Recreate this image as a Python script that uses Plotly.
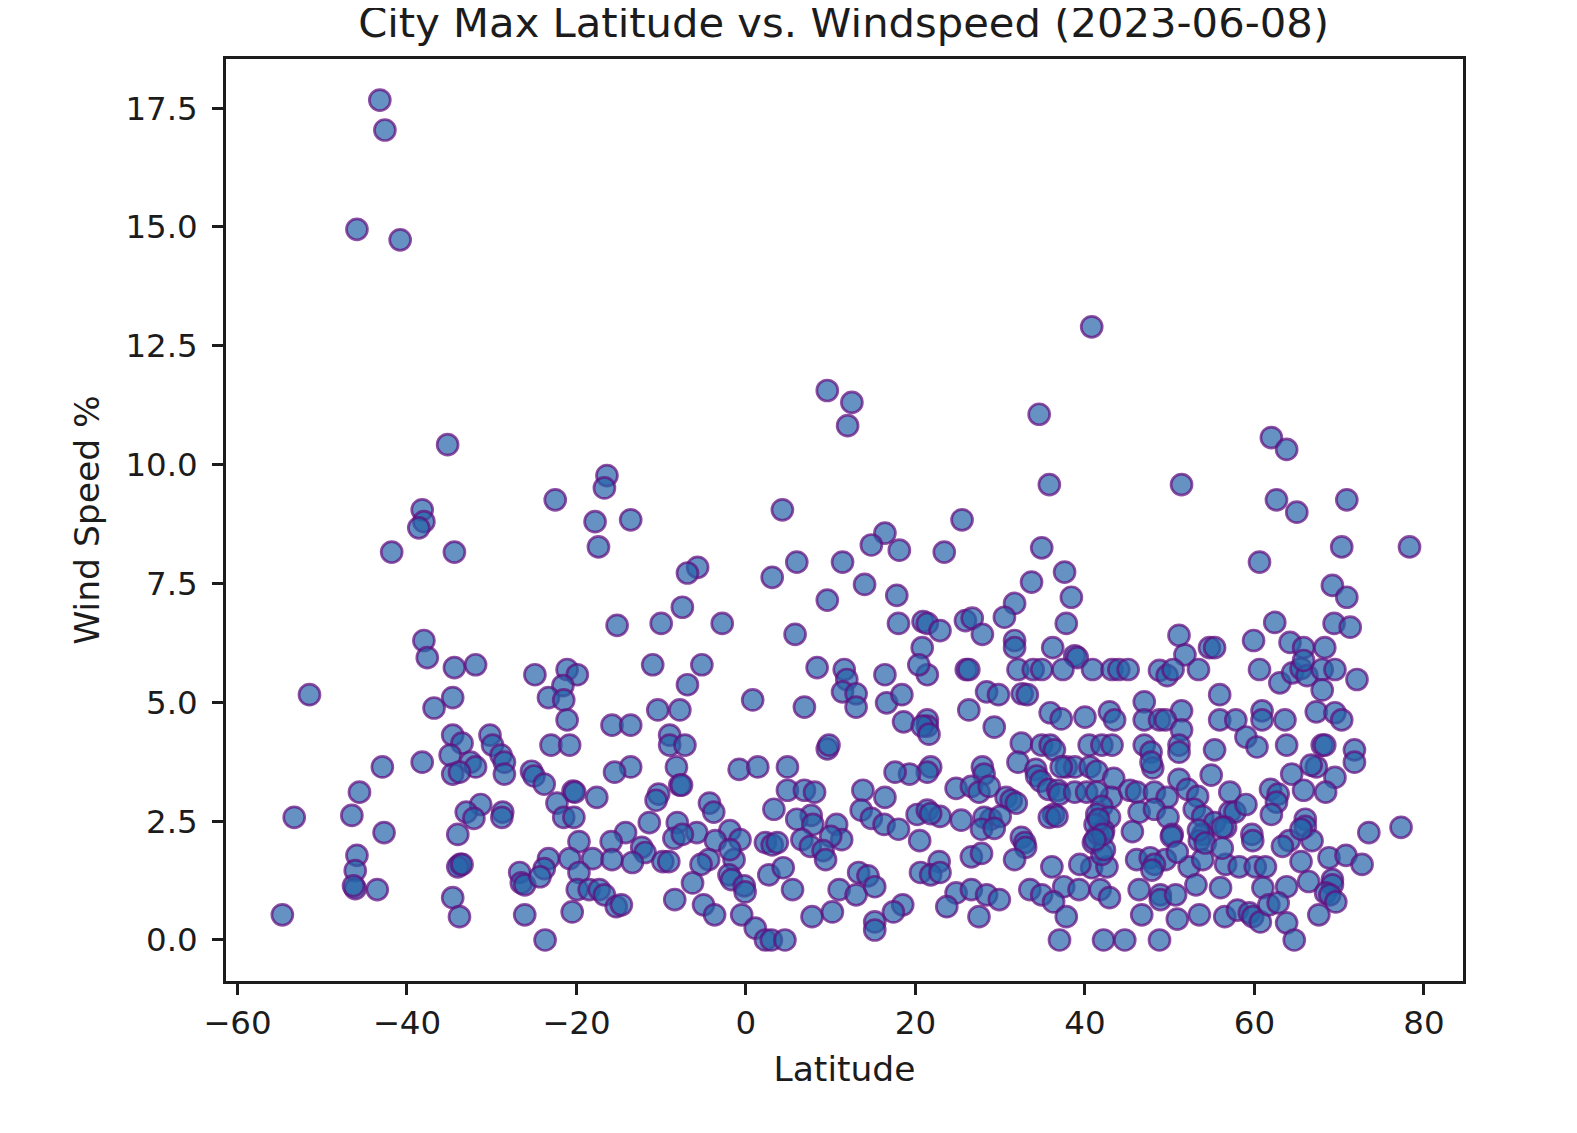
import plotly.graph_objects as go

# values
latitude = [
    -43.2, -42.6, -45.9, -40.8, 40.8, 9.6, 12.5, 12.0, 34.6, -35.2, 62.0, 63.8, 35.8, 51.4, -16.4, -16.7,
    62.6, 70.9, 65.0, -22.5, -38.2, -38.0, -38.6, -17.8, -13.6, 4.3, 25.5, 16.4, 14.8, 18.1, -17.4, -41.8,
    -34.4, 23.4, 34.9, 70.3, 78.3, 6.0, 11.4, 60.6, -5.7, -6.9, 3.1, 37.6, 14.0, 33.7, 69.2, 17.8,
    38.4, 70.9, 9.6, -7.5, 31.7, -10.0, -2.8, -15.2, 18.0, 20.9, 21.4, 22.9, 25.9, 26.7, 30.5, 37.8,
    62.4, 69.4, 71.3, 5.8, 27.9, 51.1, -38.0, 31.7, 31.7, 59.9, 64.2, 20.8, 36.2, 54.7, 55.3, 65.8,
    68.3, 38.8, 39.1, 51.8, -37.6, -34.4, -31.9, -11.0, -5.2, 8.4, -21.1, -19.9, -24.9, 11.6, 11.9, 16.4,
    21.4, 26.0, 26.3, 32.1, 33.9, 34.9, 37.4, 40.9, 43.2, 44.0, 45.1, 20.4, 48.8, 49.7, 50.4, 53.4,
    60.6, 63.0, 64.5, 65.5, 66.2, 65.8, 68.0, 69.5, 72.1, -6.9, -21.6, -23.3, -21.5, 11.4, 13.0, 13.0,
    16.6, 18.4, 28.4, 29.8, 32.6, 33.2, 47.0, 55.9, 68.0, -51.5, -34.6, 0.8, -36.8, -10.4, -7.8, 6.9,
    26.3, 35.9, 40.0, 42.9, 43.5, 51.4, 60.9, 60.9, 67.3, 69.5, 70.3, -21.1, -15.8, -13.6, 18.6, 21.4,
    21.4, 20.8, 21.6, 29.3, 37.2, 47.0, 48.8, 49.5, 51.4, 55.9, 57.8, 63.6, -34.6, -33.5, -30.2, -29.9,
    -9.0, -9.0, -7.2, -23.0, -20.8, 9.6, 9.8, 32.5, 34.9, 35.9, 36.4, 40.5, 42.0, 43.2, 47.0, 47.8,
    51.1, 51.1, 55.3, 59.0, 60.3, 63.8, 68.0, 68.3, 71.8, 71.8, -34.9, -28.9, -28.5, -28.5, -32.5, -31.9,
    -38.2, -42.9, -8.2, -7.8, -7.6, -13.6, -15.5, -25.3, -25.0, -34.6, -33.8, -0.8, 1.4, 4.9, 21.8, 21.4,
    19.3, 17.6, 27.9, 28.1, 32.1, 34.2, 34.3, 34.8, 37.8, 38.8, 37.2, 40.6, 41.4, 48.0, 47.8, 67.3,
    66.7, 64.4, 69.5, -23.8, -45.6, -20.4, -20.2, -10.3, -10.6, -17.6, 4.9, 6.9, 8.1, 13.8, 16.4, 24.8,
    26.6, 27.5, 28.7, 35.7, 36.8, 37.0, 38.8, 40.2, 43.4, 43.1, 41.4, 45.3, 46.1, 48.2, 51.1, 52.1,
    53.3, 57.1, 61.9, 62.8, 62.6, 65.8, 68.4, 30.7, 31.3, 31.9, 49.7, 54.9, -22.3, -4.3, -3.8, 3.3,
    7.7, 6.0, 7.9, 13.6, 14.8, 16.3, 18.0, -31.3, -33.0, -32.1, -28.7, -28.8, -46.5, -53.3, -21.5, -20.3,
    -11.4, -8.1, 20.2, 21.4, 22.9, 21.8, 25.4, 28.9, 28.1, 30.0, 27.8, 29.3, 36.3, 35.8, 36.7, 42.0,
    41.4, 42.9, 46.4, 48.2, 49.8, 52.9, 53.9, 55.3, 57.1, 57.7, 59.0, 62.0, 66.0, 66.0, 45.6, 50.3,
    73.5, 77.3, -42.7, -34.0, -14.2, -5.8, -1.9, -0.7, 10.7, 11.3, 10.0, -15.9, -19.7, 20.5, -8.5, -7.5,
    -3.6, 6.6, 2.3, 3.1, 3.7, 32.5, 32.9, 41.0, 41.6, 42.2, 50.2, 53.9, 53.5, 56.6, 59.7, 59.8,
    64.1, 63.3, 66.8, 65.5, 33.0, -12.3, -11.9, -45.9, -23.3, -20.8, -18.1, -15.8, -13.4, -4.4, -1.4, -1.9,
    7.6, 9.1, 9.4, -9.8, -9.1, -5.3, 31.7, 22.8, 26.6, 27.8, 36.1, 40.8, 39.4, 42.6, 46.1, 47.7,
    49.5, 48.2, 52.3, 53.9, 56.6, 58.2, 60.1, 61.3, 65.5, 68.8, 70.8, 72.7, -46.1, -33.7, -34.0, -33.5,
    13.3, 14.4, 20.6, 21.8, 22.9, 2.7, 4.4, -26.7, -23.8, -19.7, -2.0, -46.1, -46.3, -43.5, -26.5, -26.1,
    -24.3, -6.3, -1.7, -0.2, -0.1, -19.9, -18.5, -17.3, -16.7, 5.5, 11.0, 13.0, 15.2, 24.8, 26.6, 28.4,
    29.9, 33.5, 34.9, 37.5, 39.3, 41.8, 42.9, 46.4, 48.9, 48.9, 50.7, 53.1, 56.0, 61.0, 63.8, 66.4,
    69.2, 69.2, 68.4, 68.9, 69.6, -34.6, -8.4, -15.3, -14.7, -5.0, 36.3, 23.7, 18.5, 17.4, -54.7, -33.8,
    -26.1, -20.5, -3.7, -0.5, 7.8, 10.2, 27.5, 37.8, 46.7, 50.9, 53.5, 56.5, 58.0, 59.4, 59.8, 60.7,
    61.7, 62.8, 63.8, 67.6, 1.1, 15.2, 15.2, -23.7, 2.3, 3.0, 4.6, 37.0, 42.2, 44.7, 48.8, 64.7,
    41.2, 41.6, 42.0, 42.3, 42.1, 41.2,
    53.4, 56.2, 54.2, 56.2, 50.9, 47.9,
]
wind_speed = [
    17.67, 17.04, 14.95, 14.73, 12.9, 11.56, 11.31, 10.82, 11.06, 10.42, 10.57, 10.32, 9.58, 9.58, 9.77, 9.51,
    9.26, 9.26, 9.0, 9.26, 9.05, 8.8, 8.67, 8.8, 8.84, 9.05, 8.84, 8.56, 8.31, 8.2, 8.27, 8.16,
    8.16, 8.16, 8.25, 8.27, 8.27, 7.95, 7.95, 7.95, 7.84, 7.72, 7.63, 7.74, 7.48, 7.53, 7.46, 7.25,
    7.21, 7.21, 7.15, 7.0, 7.08, 6.66, 6.66, 6.62, 6.66, 6.7, 6.66, 6.51, 6.72, 6.77, 6.79, 6.66,
    6.68, 6.66, 6.58, 6.43, 6.43, 6.41, 6.3, 6.3, 6.15, 6.3, 6.26, 6.15, 6.15, 6.15, 6.15, 6.15,
    6.15, 5.98, 5.94, 6.0, 5.94, 5.73, 5.79, 5.79, 5.79, 5.73, 5.69, 5.58, 5.58, 5.69, 5.48, 5.58,
    5.58, 5.69, 5.69, 5.69, 5.69, 5.69, 5.69, 5.69, 5.69, 5.69, 5.69, 5.79, 5.67, 5.56, 5.69, 5.69,
    5.69, 5.41, 5.62, 5.71, 5.56, 5.88, 5.69, 5.69, 5.48, 5.37, 5.35, 5.1, 5.05, 5.22, 5.18, 4.9,
    4.99, 5.16, 5.22, 5.16, 5.18, 5.16, 5.01, 5.16, 5.26, 5.16, 5.1, 5.05, 4.88, 4.84, 4.84, 4.9,
    4.84, 4.78, 4.69, 4.8, 4.63, 4.82, 4.82, 4.63, 4.8, 4.78, 4.63, 4.63, 4.52, 4.52, 4.59, 4.63,
    4.5, 4.5, 4.33, 4.48, 4.65, 4.63, 4.63, 4.63, 4.42, 4.63, 4.63, 4.63, 4.31, 4.14, 4.31, 4.1,
    4.31, 4.1, 4.1, 4.1, 4.1, 4.02, 4.1, 4.14, 4.1, 4.1, 4.0, 4.1, 4.1, 4.1, 4.1, 3.95,
    4.1, 3.95, 4.0, 4.27, 4.06, 4.1, 4.1, 4.1, 4.0, 3.74, 3.89, 3.89, 3.74, 3.49, 3.74, 3.64,
    3.74, 3.64, 3.64, 3.26, 3.26, 3.64, 3.53, 3.55, 3.45, 3.49, 3.53, 3.59, 3.64, 3.64, 3.64, 3.53,
    3.49, 3.53, 3.64, 3.49, 3.74, 3.59, 3.45, 3.34, 3.64, 3.64, 3.64, 3.64, 3.55, 3.62, 3.74, 3.64,
    3.68, 3.49, 3.42, 3.28, 3.11, 3.13, 3.11, 3.07, 2.94, 3.0, 3.15, 3.15, 3.11, 3.15, 3.0, 3.19,
    3.23, 3.11, 3.23, 3.17, 3.15, 3.07, 3.11, 3.11, 3.4, 3.0, 3.11, 3.15, 3.11, 3.11, 3.38, 3.17,
    3.02, 3.11, 3.17, 3.07, 2.9, 3.15, 3.11, 3.0, 2.94, 2.88, 3.0, 3.47, 2.88, 2.88, 2.69, 2.75,
    2.62, 2.54, 2.43, 2.73, 2.56, 2.43, 2.33, 2.85, 2.69, 2.56, 2.69, 2.58, 2.62, 2.58, 2.58, 2.58,
    2.47, 2.47, 2.64, 2.73, 2.6, 2.66, 2.52, 2.54, 2.58, 2.6, 2.33, 2.35, 2.64, 2.58, 2.6, 2.81,
    2.64, 2.58, 2.69, 2.75, 2.58, 2.75, 2.6, 2.47, 2.69, 2.69, 2.85, 2.64, 2.54, 2.39, 2.28, 2.22,
    2.26, 2.37, 2.26, 2.22, 2.26, 2.26, 2.3, 2.11, 2.43, 2.11, 2.18, 2.07, 2.07, 2.09, 2.14, 2.22,
    2.09, 2.11, 2.05, 2.0, 2.05, 2.16, 2.05, 2.05, 2.22, 2.3, 2.18, 2.22, 2.09, 2.37, 2.22, 2.09,
    2.09, 1.97, 2.09, 2.33, 1.95, 1.95, 1.84, 1.78, 1.71, 1.71, 1.71, 1.69, 1.63, 1.69, 1.69, 1.9,
    1.97, 1.88, 1.69, 1.65, 1.65, 1.59, 1.69, 1.65, 1.75, 1.82, 1.54, 1.52, 1.59, 1.54, 1.69, 1.73,
    1.69, 1.59, 1.54, 1.69, 1.59, 1.54, 1.54, 1.54, 1.65, 1.73, 1.78, 1.59, 1.46, 1.59, 1.54, 1.59,
    1.42, 1.35, 1.42, 1.37, 1.42, 1.37, 1.52, 1.42, 1.5, 1.42, 1.37, 1.08, 1.14, 1.06, 1.2, 1.16,
    1.33, 1.2, 1.27, 1.14, 1.01, 1.06, 1.06, 1.06, 0.95, 1.06, 1.06, 0.95, 1.12, 0.99, 1.06, 0.95,
    0.85, 1.06, 0.95, 1.12, 1.06, 1.06, 0.89, 1.06, 0.95, 0.85, 0.95, 1.16, 1.1, 1.1, 1.12, 1.23,
    1.27, 1.16, 0.99, 0.95, 0.8, 0.89, 0.85, 0.7, 0.74, 0.74, 0.8, 0.7, 0.74, 0.59, 0.53, 0.49,
    0.53, 0.59, 0.53, 0.53, 0.49, 0.59, 0.49, 0.49, 0.53, 0.44, 0.53, 0.49, 0.63, 0.57, 0.49, 0.38,
    0.74, 0.78, 0.36, 0.53, 0.25, 0.38, 0.21, 0.0, 0.0, 0.0, 0.0, 0.0, 0.0, 0.0, 0.0, 0.0,
    2.43, 2.54, 1.8, 1.9, 2.22, 2.11,
    2.31, 2.37, 2.04, 1.93, 1.85, 1.47,
]

FONT = "DejaVu Sans"
INK = "#1c1c1c"

fig = go.Figure(
    go.Scatter(
        x=latitude,
        y=wind_speed,
        mode="markers",
        marker=dict(
            size=21,
            color="rgba(36,100,168,0.7)",
            line=dict(color="rgba(98,14,128,0.72)", width=2.7),
        ),
    )
)

axis_style = dict(
    showgrid=False,
    zeroline=False,
    showline=True,
    mirror=True,
    linecolor=INK,
    linewidth=2.5,
    ticks="outside",
    ticklen=11,
    tickwidth=2.5,
    tickcolor=INK,
    tickfont=dict(family=FONT, size=32.5, color=INK),
)

# plotly draws the frame just outside the plot area, so the ranges are a touch tighter
fig.update_xaxes(
    range=[-61.35, 84.61],
    dtick=20,
    tick0=0,
    title=dict(text="Latitude", font=dict(family=FONT, size=34.5, color=INK), standoff=17),
    **axis_style,
)
fig.update_yaxes(
    range=[-0.863, 18.534],
    dtick=2.5,
    tick0=0,
    tickformat=".1f",
    ticklabelstandoff=8,
    title=dict(text="Wind Speed %", font=dict(family=FONT, size=34.5, color=INK), standoff=16),
    **axis_style,
)

fig.update_layout(
    width=1561,
    height=1117,
    margin=dict(l=218, r=106, t=51, b=144),
    plot_bgcolor="white",
    paper_bgcolor="white",
    showlegend=False,
    title=dict(
        text="City Max Latitude vs. Windspeed (2023-06-08)",
        font=dict(family=FONT, size=41.7, color=INK),
        x=0.5353,
        xanchor="center",
        y=0.9875,
        yanchor="middle",
    ),
)

fig.write_html("out.html")
